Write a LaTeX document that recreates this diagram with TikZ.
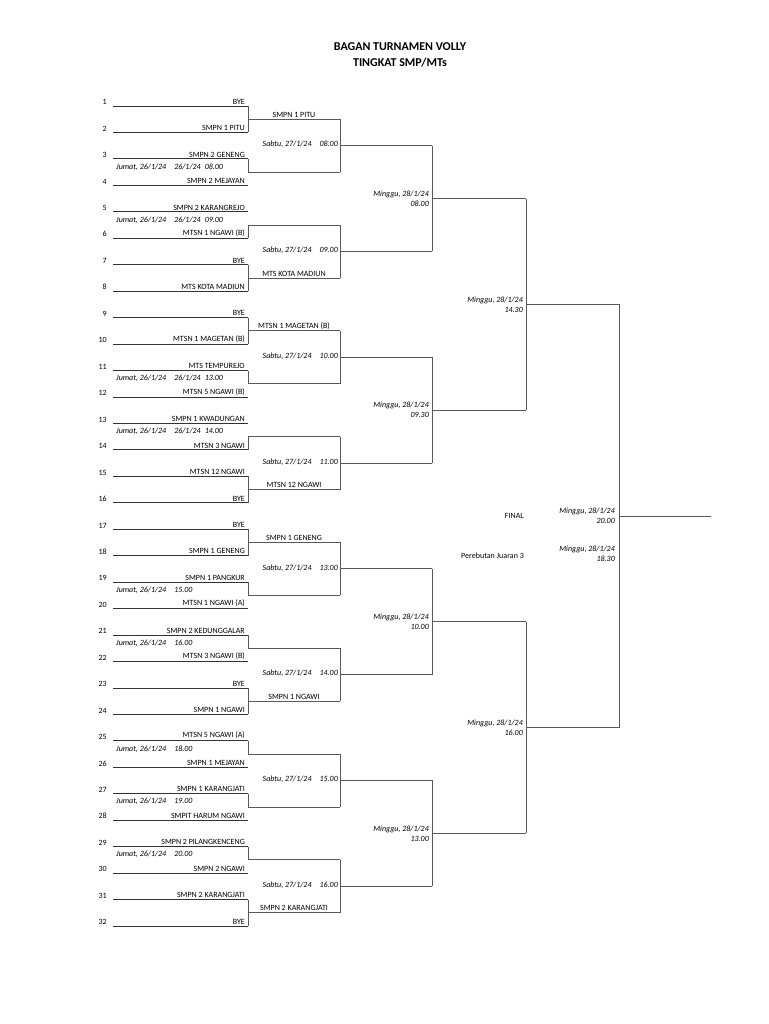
\documentclass[tikz,border=0pt]{standalone}
\usepackage{fontspec}
\setmainfont{Carlito}
\usetikzlibrary{positioning,calc}

\begin{document}
\begin{tikzpicture}[x=1pt, y=-1pt,
    team/.style = {anchor=south east, inner sep=1pt, font=\fontsize{8}{9}\selectfont},
    num/.style = {anchor=south east, inner sep=1pt, font=\fontsize{8}{9}\selectfont},
    jadwal/.style = {anchor=west, inner sep=1pt, font=\fontsize{8}{9}\selectfont\itshape},
    waktu/.style = {anchor=east, inner sep=1pt, align=right, font=\fontsize{8}{10}\selectfont\itshape},
    pemenang/.style = {anchor=south, inner sep=1.5pt, font=\fontsize{8}{9}\selectfont},
    garis/.style = {draw=black!80, line width=0.8pt},
    bagan/.style = {draw=black!65, line width=0.8pt}]
    \useasboundingbox[fill=white] (0,0) rectangle (768,1024);
    % judul
    \node[font=\fontsize{12}{14}\selectfont\bfseries] (judul) at (400,47) {BAGAN TURNAMEN VOLLY};
    \node[font=\fontsize{12}{14}\selectfont\bfseries, below=0pt of judul] (tingkat) {TINGKAT SMP/MTs};

    % babak 1
    \foreach \i/\t [evaluate=\i as \y using 106+26.45*(\i-1)] in {1/BYE, 2/SMPN 1 PITU, 3/SMPN 2 GENENG, 4/SMPN 2 MEJAYAN,
        5/SMPN 2 KARANGREJO, 6/MTSN 1 NGAWI (B), 7/BYE, 8/MTS KOTA MADIUN, 9/BYE, 10/MTSN 1 MAGETAN (B),
        11/MTS TEMPUREJO, 12/MTSN 5 NGAWI (B), 13/SMPN 1 KWADUNGAN, 14/MTSN 3 NGAWI, 15/MTSN 12 NGAWI, 16/BYE,
        17/BYE, 18/SMPN 1 GENENG, 19/SMPN 1 PANGKUR, 20/MTSN 1 NGAWI (A), 21/SMPN 2 KEDUNGGALAR,
        22/MTSN 3 NGAWI (B), 23/BYE, 24/SMPN 1 NGAWI, 25/MTSN 5 NGAWI (A), 26/SMPN 1 MEJAYAN,
        27/SMPN 1 KARANGJATI, 28/SMPIT HARUM NGAWI, 29/SMPN 2 PILANGKENCENG, 30/SMPN 2 NGAWI,
        31/SMPN 2 KARANGJATI, 32/BYE} {
        \coordinate (l\i) at (113,\y);
        \coordinate (r\i) at (248,\y);
        \node[num] (n\i) at (108,\y) {\i};
        \node[team] (t\i) at (246,\y-0.5) {\t};
        \path[garis] (l\i) -- (r\i);
    }

    % babak 2 (0 = bye, 1 = atas, 2 = bawah)
    \foreach \k/\jenis [evaluate=\k as \a using int(2*\k-1), evaluate=\k as \b using int(2*\k),
                        evaluate=\k as \m using 106+26.45*(2*\k-1.5)] in
        {1/0, 2/1, 3/2, 4/0, 5/0, 6/1, 7/2, 8/0, 9/0, 10/1, 11/1, 12/0, 13/1, 14/1, 15/1, 16/0} {
        \coordinate (m\k) at (248,\m);
        \coordinate (p\k) at (340,\m);
        \path[bagan] (m\k) -- (p\k);
        \ifcase\jenis \path[bagan] (r\a) -- (r\b);
        \or \path[bagan] (r\a) -- (m\k);
        \or \path[bagan] (m\k) -- (r\b);
        \fi
    }
    \foreach \k/\t in {1/SMPN 1 PITU, 4/MTS KOTA MADIUN, 5/MTSN 1 MAGETAN (B), 8/MTSN 12 NGAWI,
        9/SMPN 1 GENENG, 12/SMPN 1 NGAWI, 16/SMPN 2 KARANGJATI}
        \node[pemenang] (w\k) at ($(m\k)!0.5!(p\k)$) {\t};
    \foreach \k/\t in {2/{Jumat, 26/1/24\quad 26/1/24\enspace 08.00}, 3/{Jumat, 26/1/24\quad 26/1/24\enspace 09.00},
        6/{Jumat, 26/1/24\quad 26/1/24\enspace 13.00}, 7/{Jumat, 26/1/24\quad 26/1/24\enspace 14.00},
        10/{Jumat, 26/1/24\quad 15.00}, 11/{Jumat, 26/1/24\quad 16.00}, 13/{Jumat, 26/1/24\quad 18.00},
        14/{Jumat, 26/1/24\quad 19.00}, 15/{Jumat, 26/1/24\quad 20.00}} {
        \pgfmathtruncatemacro{\a}{2*\k-1}
        \node[jadwal] (j\k) at ($(l\a)+(2,8)$) {\t};
    }

    % babak 3
    \foreach \j/\jam [evaluate=\j as \a using int(2*\j-1), evaluate=\j as \b using int(2*\j)] in
        {1/08.00, 2/09.00, 3/10.00, 4/11.00, 5/13.00, 6/14.00, 7/15.00, 8/16.00} {
        \coordinate (q\j) at ($(p\a)!0.5!(p\b)$);
        \coordinate (s\j) at ($(q\j)+(92,0)$);
        \path[bagan] (p\a) -- (p\b);
        \path[bagan] (q\j) -- (s\j);
        \node[waktu] (sabtu\j) at ($(q\j)+(-1,-1)$) {Sabtu, 27/1/24\quad \jam};
    }

    % babak 4
    \foreach \j/\jam [evaluate=\j as \a using int(2*\j-1), evaluate=\j as \b using int(2*\j)] in
        {1/08.00, 2/09.30, 3/10.00, 4/13.00} {
        \coordinate (u\j) at ($(s\a)!0.5!(s\b)$);
        \coordinate (v\j) at ($(u\j)+(94,0)$);
        \path[bagan] (s\a) -- (s\b);
        \path[bagan] (u\j) -- (v\j);
        \node[waktu] (minggu\j) at ($(u\j)+(-2,0)$) {Minggu, 28/1/24\\\jam};
    }

    % semifinal
    \foreach \j/\jam [evaluate=\j as \a using int(2*\j-1), evaluate=\j as \b using int(2*\j)] in
        {1/14.30, 2/16.00} {
        \coordinate (x\j) at ($(v\a)!0.5!(v\b)$);
        \coordinate (z\j) at ($(x\j)+(93,0)$);
        \path[bagan] (v\a) -- (v\b);
        \path[bagan] (x\j) -- (z\j);
        \node[waktu] (semi\j) at ($(x\j)+(-2,0)$) {Minggu, 28/1/24\\\jam};
    }

    % final
    \coordinate (fin) at ($(z1)!0.5!(z2)$);
    \coordinate (juara) at ($(fin)+(92,0)$);
    \path[bagan] (z1) -- (z2);
    \path[bagan] (fin) -- (juara);
    \node[waktu] (tglfinal) at ($(fin)+(-3,0)$) {Minggu, 28/1/24\\20.00};
    \node[waktu] (tgljuara3) at ($(fin)+(-3,38)$) {Minggu, 28/1/24\\18.30};
    \node[anchor=east, inner sep=1pt, font=\fontsize{8}{9}\selectfont] (final) at ($(fin)+(-94,0)$) {FINAL};
    \node[anchor=east, inner sep=1pt, font=\fontsize{8}{9}\selectfont] (juara3) at ($(fin)+(-94,40)$) {Perebutan Juaran 3};
\end{tikzpicture}
\end{document}
